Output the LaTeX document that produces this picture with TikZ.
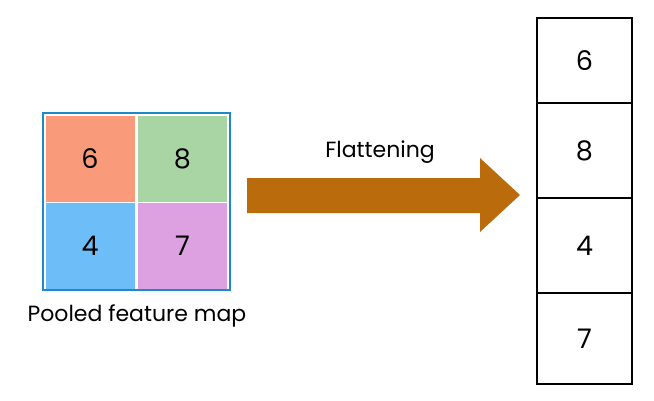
\documentclass[tikz,border=0pt]{standalone}
\usepackage{fontspec}
\setmainfont{Poppins}
\definecolor{orng}{HTML}{F99A7A}
\definecolor{grn}{HTML}{A9D4A4}
\definecolor{blu}{HTML}{6DBEF8}
\definecolor{prp}{HTML}{DDA0E0}
\definecolor{brn}{HTML}{BA6B0B}
\definecolor{frame}{HTML}{1E88C8}
\begin{document}
\begin{tikzpicture}[x=1pt,y=-1pt,
  cell/.style={minimum width=89pt,minimum height=86pt,inner sep=0pt,font=\fontsize{27}{32}\selectfont},
  colbox/.style={draw=black,line width=1.2pt,minimum width=95pt,inner sep=0pt,font=\fontsize{27}{32}\selectfont}]
\useasboundingbox (0,0) rectangle (654,400);
\node[draw=frame,line width=1.5pt,minimum width=187pt,minimum height=177pt,inner sep=0pt] (grid) at (136.5,201.5) {};
\node[cell,fill=orng] (a) at (90,158.5) {6};
\node[cell,fill=grn] (b) at (182.5,158.5) {8};
\node[cell,fill=blu] (c) at (90,246) {4};
\node[cell,fill=prp] (d) at (182.5,246) {7};
\node[font=\fontsize{22}{26}\selectfont] (lbl) at (137,316) {Pooled feature map};
\node[font=\fontsize{22}{26}\selectfont] (fl) at (380,152) {Flattening};
\fill[brn] (247,178) -- (480,178) -- (480,158) -- (520,195) -- (480,232) -- (480,213) -- (247,213) -- cycle;
\node[colbox,minimum height=85pt] (c1) at (584.5,60.5) {6};
\node[colbox,minimum height=95pt] (c2) at (584.5,150.5) {8};
\node[colbox,minimum height=95pt] (c3) at (584.5,245.5) {4};
\node[colbox,minimum height=91pt] (c4) at (584.5,338.5) {7};
\end{tikzpicture}
\end{document}
